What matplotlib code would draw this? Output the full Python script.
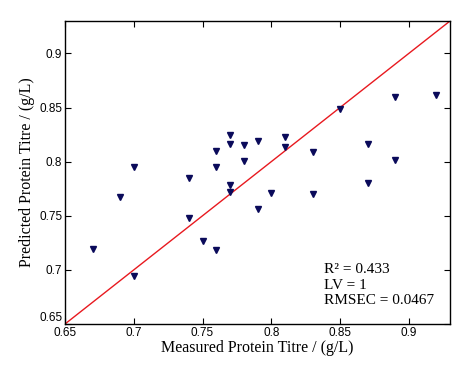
import matplotlib
matplotlib.use("Agg")
import matplotlib.pyplot as plt

measured = [0.67, 0.69, 0.70, 0.70, 0.74, 0.74, 0.75, 0.76, 0.76, 0.76,
            0.77, 0.77, 0.77, 0.77, 0.78, 0.78, 0.79, 0.79, 0.80, 0.81,
            0.81, 0.83, 0.83, 0.85, 0.87, 0.87, 0.89, 0.89, 0.92]
predicted = [0.719, 0.767, 0.795, 0.694, 0.785, 0.748, 0.727, 0.718, 0.795, 0.810,
             0.825, 0.816, 0.778, 0.772, 0.815, 0.801, 0.819, 0.756, 0.771, 0.823,
             0.814, 0.809, 0.770, 0.849, 0.816, 0.780, 0.860, 0.802, 0.862]
lims = [0.65, 0.93]
ticks = [0.65, 0.7, 0.75, 0.8, 0.85, 0.9]
tick_labels = ["0.65", "0.7", "0.75", "0.8", "0.85", "0.9"]
stats_text = "R\u00b2 = 0.433\nLV = 1\nRMSEC = 0.0467"

fig = plt.figure(figsize=(4.74, 3.66), dpi=100)
ax = fig.add_axes([65/474, 1-324/366, 385/474, 303/366])

ax.plot(lims, lims, color="#e8191f", lw=1.0, zorder=2)
ax.plot(measured, predicted, linestyle="none", marker="v", markersize=5,
        color="#0a0a5a", markeredgecolor="#0a0a5a", zorder=3)

ax.set_xlim(lims)
ax.set_ylim(lims)
ax.set_xticks(ticks)
ax.set_xticklabels(tick_labels, family="Liberation Sans", fontsize=8.5)
ax.set_yticks(ticks)
ax.set_yticklabels(tick_labels, family="Liberation Sans", fontsize=8.5)
ax.tick_params(direction="in", top=True, right=True, length=4, width=0.8, pad=2)
ax.yaxis.get_majorticklabels()[0].set_verticalalignment("bottom")
for s in ax.spines.values():
    s.set_linewidth(1.0)

ax.set_xlabel("Measured Protein Titre / (g/L)", family="Liberation Serif", fontsize=11.5, labelpad=1)
ax.set_ylabel("Predicted Protein Titre / (g/L)", family="Liberation Serif", fontsize=11.5, labelpad=3)

ax.text(0.8385, 0.706, stats_text, family="Liberation Serif", fontsize=11,
        va="top", ha="left", linespacing=1.25, transform=ax.transData)

fig.savefig("out.png", dpi=100)
